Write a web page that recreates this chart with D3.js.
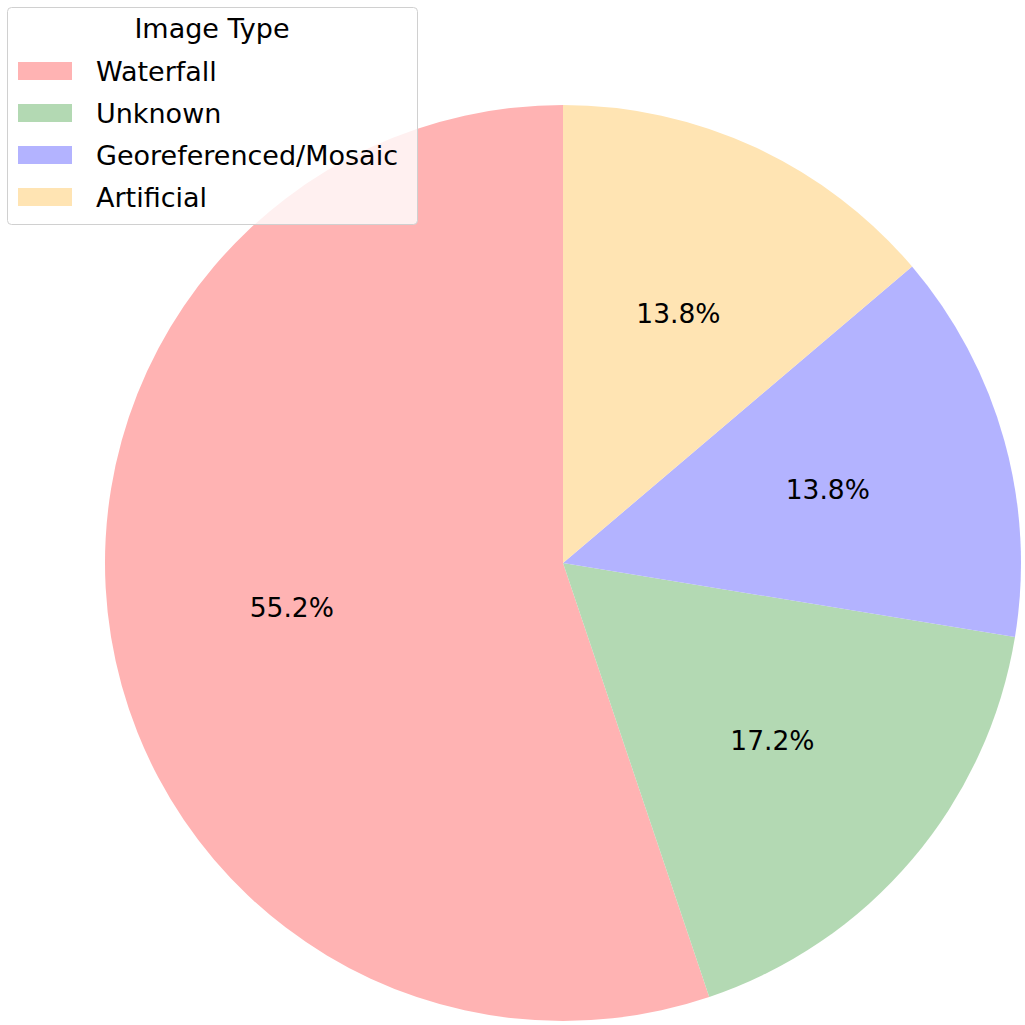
<!DOCTYPE html>
<html>
<head>
<meta charset="utf-8">
<script src="https://cdn.jsdelivr.net/npm/d3@7"></script>
<style>
  html, body { margin: 0; padding: 0; background: #fff; }
  svg { display: block; font-family: "DejaVu Sans", sans-serif; }
</style>
</head>
<body>
<div id="chart"></div>
<script>
// pie data (16 / 5 / 4 / 4 out of 29)
const categories = ["Waterfall", "Unknown", "Georeferenced/Mosaic", "Artificial"];
const counts = [16, 5, 4, 4];
const colors = ["#ffb3b3", "#b3d9b3", "#b3b3ff", "#ffe4b3"];
const legendTitle = "Image Type";

(function() {
  const W = 1025, H = 1025;
  const cx = 563, cy = 563, radius = 458;

  const svg = d3.select("#chart").append("svg")
    .attr("width", W).attr("height", H)
    .attr("viewBox", `0 0 ${W} ${H}`);

  const data = categories.map((c, i) => ({ name: c, value: counts[i], color: colors[i] }));
  const total = d3.sum(counts);

  // matplotlib style: start at 12 o'clock, go counterclockwise
  const pie = d3.pie().value(d => d.value).sort(null)
    .startAngle(0).endAngle(-2 * Math.PI);
  const arcs = pie(data);

  const arc = d3.arc().innerRadius(0).outerRadius(radius);
  const labelArc = d3.arc().innerRadius(radius * 0.6).outerRadius(radius * 0.6);

  const g = svg.append("g").attr("transform", `translate(${cx},${cy})`);

  g.selectAll("path.slice").data(arcs).enter().append("path")
    .attr("class", "slice")
    .attr("d", arc)
    .attr("fill", d => d.data.color);

  g.selectAll("text.pct").data(arcs).enter().append("text")
    .attr("class", "pct")
    .attr("transform", d => `translate(${labelArc.centroid(d)})`)
    .attr("text-anchor", "middle")
    .attr("dy", "0.36em")
    .style("font-size", "26.5px")
    .attr("fill", "#000")
    .text(d => (d.data.value / total * 100).toFixed(1) + "%");

  // Legend (top left, semi transparent frame)
  const leg = svg.append("g").attr("transform", "translate(7,7)");
  leg.append("rect")
    .attr("x", 0.5).attr("y", 0.5)
    .attr("width", 410).attr("height", 217)
    .attr("rx", 4).attr("ry", 4)
    .attr("fill", "#fff").attr("fill-opacity", 0.8)
    .attr("stroke", "#d0d0d0").attr("stroke-width", 1);

  leg.append("text")
    .attr("x", 205).attr("y", 31)
    .attr("text-anchor", "middle")
    .style("font-size", "27px")
    .attr("fill", "#000")
    .text(legendTitle);

  data.forEach((d, i) => {
    const yc = 64 + i * 42;
    leg.append("rect")
      .attr("x", 11).attr("y", yc - 9)
      .attr("width", 54).attr("height", 18)
      .attr("fill", d.color);
    leg.append("text")
      .attr("x", 89).attr("y", yc)
      .attr("dy", "0.36em")
      .style("font-size", "27px")
      .attr("fill", "#000")
      .text(d.name);
  });
})();
</script>
</body>
</html>
